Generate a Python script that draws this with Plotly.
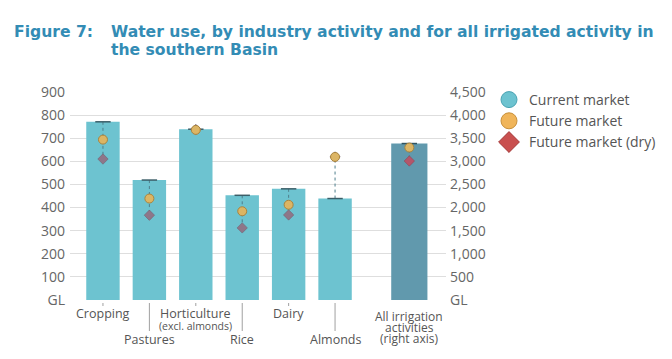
import plotly.graph_objects as go

# ---- data ----
categories = ["Cropping", "Pastures", "Horticulture", "Rice", "Dairy", "Almonds"]
current = [771, 519, 739, 453, 481, 439]
future = [694, 439, 736, 384, 412, 619]
future_dry = [610, 367, 738, 312, 368, 619]

total_label = "All irrigation"
total_current = [3385]
total_future = [3298]
total_dry = [3007]

left_ticks = [0, 100, 200, 300, 400, 500, 600, 700, 800, 900]
right_ticks = [0, 500, 1000, 1500, 2000, 2500, 3000, 3500, 4000, 4500]

# ---- layout positions (not data) ----
xpos = list(range(len(categories)))
xpos_total = [6.6]

BAR = "#6dc3d0"
BAR2 = "#6199ad"
ORANGE = "#f0b55a"
RED = "#c9504f"
GRID = "#dedede"
TXT = "#555555"
FONT = "Open Sans"
W, H = 664, 351  # page body adds an 8px offset

# plot area in reference pixels: x 70..446, y 92..300
def px_x(p):
    return (p - 70) / 376

def px_y(p):
    return (300 - p) / 208

fig = go.Figure()

fig.add_trace(go.Bar(x=xpos, y=current, width=0.72, marker_color=BAR,
                     marker_line_width=0, showlegend=False, yaxis="y"))
fig.add_trace(go.Bar(x=xpos_total, y=total_current, width=0.78, marker_color=BAR2,
                     marker_line_width=0, showlegend=False, yaxis="y2"))


def connectors(xs, tops, fut, dry):
    lx, ly = [], []
    for x, t, f, d in zip(xs, tops, fut, dry):
        lo = min(f, d)
        hi = max(f, d)
        end = hi if hi > t else lo
        lx += [x, x, None]
        ly += [t, end, None]
    return lx, ly


cx, cy = connectors(xpos, current, future, future_dry)
fig.add_trace(go.Scatter(x=cx, y=cy, mode="lines", line=dict(color="#4f7f8c", width=1, dash="dot"),
                         showlegend=False, hoverinfo="skip", yaxis="y"))
cx2, cy2 = connectors(xpos_total, total_current, total_future, total_dry)
fig.add_trace(go.Scatter(x=cx2, y=cy2, mode="lines", line=dict(color="#3f6a78", width=1, dash="dot"),
                         showlegend=False, hoverinfo="skip", yaxis="y2"))

fig.add_trace(go.Scatter(x=xpos, y=current, mode="markers",
                         marker=dict(symbol="line-ew", size=11, line=dict(color="#3b5e68", width=1.5)),
                         showlegend=False, hoverinfo="skip", yaxis="y"))
fig.add_trace(go.Scatter(x=xpos_total, y=total_current, mode="markers",
                         marker=dict(symbol="line-ew", size=11, line=dict(color="#2f5360", width=1.5)),
                         showlegend=False, hoverinfo="skip", yaxis="y2"))

fig.add_trace(go.Scatter(x=xpos, y=future_dry, mode="markers",
                         marker=dict(symbol="diamond", size=8, color="#8e7689",
                                     line=dict(color="#6e5a6a", width=0.5)),
                         showlegend=False, yaxis="y"))
fig.add_trace(go.Scatter(x=xpos_total, y=total_dry, mode="markers",
                         marker=dict(symbol="diamond", size=8, color="#b4566a",
                                     line=dict(color="#8a4050", width=0.5)),
                         showlegend=False, yaxis="y2"))
fig.add_trace(go.Scatter(x=xpos, y=future, mode="markers",
                         marker=dict(symbol="circle", size=9, color="#dcb564",
                                     line=dict(color="#a9843e", width=1)),
                         showlegend=False, yaxis="y"))
fig.add_trace(go.Scatter(x=xpos_total, y=total_future, mode="markers",
                         marker=dict(symbol="circle", size=9, color="#dcb564",
                                     line=dict(color="#a9843e", width=1)),
                         showlegend=False, yaxis="y2"))

legend_items = [("Current market", "circle", BAR, "#4aa3b3"),
                ("Future market", "circle", ORANGE, "#c8903a"),
                ("Future market (dry)", "diamond", RED, "#a53a3a")]
for name, sym, col, lc in legend_items:
    fig.add_trace(go.Scatter(x=[None], y=[None], mode="markers", name=name,
                             marker=dict(symbol=sym, size=16, color=col, line=dict(color=lc, width=1)),
                             yaxis="y"))

upper = [0, 2, 4]
lower = [1, 3, 5]
LBL = dict(size=12.5, color=TXT, family=FONT)
ann = []
for i in upper:
    ann.append(dict(x=xpos[i], y=px_y(313), xref="x", yref="paper", yanchor="middle",
                    text=categories[i], showarrow=False, font=LBL))
for i in lower:
    ann.append(dict(x=xpos[i], y=px_y(339), xref="x", yref="paper", yanchor="middle",
                    text=categories[i], showarrow=False, font=LBL))
ann.append(dict(x=xpos[2], y=px_y(326), xref="x", yref="paper", yanchor="middle",
                text="(excl. almonds)", showarrow=False, font=dict(size=10.5, color=TXT, family=FONT)))
for k, t in enumerate([total_label, "activities", "(right axis)"]):
    ann.append(dict(x=xpos_total[0], y=px_y(316 + 11 * k), xref="x", yref="paper", yanchor="middle",
                    text=t, showarrow=False, font=dict(size=12, color=TXT, family=FONT)))

TITLE_FAM = "DejaVu Sans"
title_font = dict(family=TITLE_FAM, size=15.6, color="#338cb5", weight=700)
ann.append(dict(x=px_x(12), y=px_y(32), xref="paper", yref="paper", xanchor="left", yanchor="middle",
                text="Figure 7:", showarrow=False, font=title_font))
ann.append(dict(x=px_x(109), y=px_y(32), xref="paper", yref="paper", xanchor="left", yanchor="middle",
                text="Water use, by industry activity and for all irrigated activity in",
                showarrow=False, font=title_font))
ann.append(dict(x=px_x(109), y=px_y(50), xref="paper", yref="paper", xanchor="left", yanchor="middle",
                text="the southern Basin", showarrow=False, font=title_font))

shapes = []
for i in lower:
    shapes.append(dict(type="line", xref="x", yref="paper", x0=xpos[i], x1=xpos[i],
                       y0=px_y(303), y1=px_y(331), line=dict(color="#a0a0a0", width=1)))
for i in upper:
    shapes.append(dict(type="line", xref="x", yref="paper", x0=xpos[i], x1=xpos[i],
                       y0=px_y(303), y1=px_y(306), line=dict(color="#a0a0a0", width=1)))

fig.update_layout(
    width=W, height=H,
    margin=dict(l=62, r=226, t=84, b=59, autoexpand=False),
    paper_bgcolor="white", plot_bgcolor="white",
    barmode="overlay",
    font=dict(family=FONT, color=TXT),
    xaxis=dict(range=[-0.71, 7.39], showgrid=False, zeroline=False, showticklabels=False,
               showline=False, fixedrange=True),
    yaxis=dict(range=[0, 900], tickvals=left_ticks,
               ticktext=["GL"] + [str(v) for v in left_ticks[1:]],
               showgrid=True, gridcolor=GRID, gridwidth=1, zeroline=False,
               ticks="", tickfont=dict(size=14, color="#666666", family=FONT), ticklabelstandoff=4),
    yaxis2=dict(range=[0, 4500], tickvals=right_ticks,
                ticktext=["GL"] + [f"{v:,}" for v in right_ticks[1:]],
                overlaying="y", side="right", showgrid=False, zeroline=False,
                ticks="", tickfont=dict(size=14, color="#666666", family=FONT), ticklabelstandoff=3),
    legend=dict(xref="container", yref="container", x=481 / W, y=1 - (84 - 8) / H,
                xanchor="left", yanchor="top",
                font=dict(size=14, color=TXT, family=FONT), itemsizing="trace",
                tracegroupgap=0, bgcolor="rgba(0,0,0,0)"),
    annotations=ann,
    shapes=shapes,
)

fig.write_html("out.html")
